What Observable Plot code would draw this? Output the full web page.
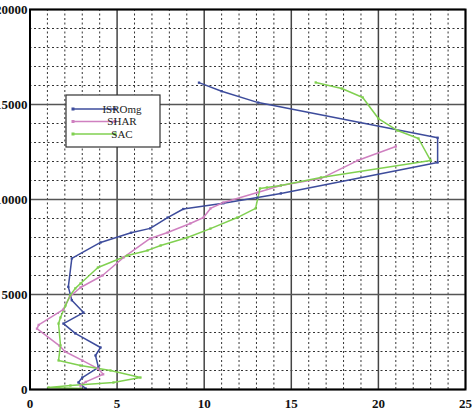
<!DOCTYPE html>
<html><head><meta charset="utf-8">
<script src="https://cdn.jsdelivr.net/npm/d3@7"></script>
<script src="https://cdn.jsdelivr.net/npm/@observablehq/plot@0.6"></script>
<style>
body{margin:0;background:#fff}
g[aria-label$="tick label"], g[aria-label$="tick label"] text{font-weight:bold;font-size:13px;font-family:"Liberation Serif",serif}
</style>
</head><body><div id="chart"></div>
<script>
const seriesNames = ["ISROmg", "SHAR", "SAC"];
const seriesColors = ["#3d4c9c", "#cf80c0", "#80d050"];

const isroSpeed = [9.7, 11.0, 13.1, 23.4, 23.4, 14.4, 13.06, 11.1, 8.8, 7.9, 6.9, 5.8, 4.05, 2.4, 2.2, 2.4, 3.07, 1.92, 2.6, 4.05, 3.76, 3.93, 3.0, 2.78, 3.2];
const isroAlt   = [16150, 15700, 15100, 13250, 11950, 10320, 10100, 9800, 9500, 9050, 8480, 8250, 7740, 6900, 5400, 4700, 4050, 3470, 2950, 2210, 1790, 1160, 630, 370, 50];

const sharSpeed = [21.0, 18.8, 16.7, 14.4, 13.06, 11.1, 10.36, 9.96, 9.2, 7.9, 6.9, 5.37, 4.16, 2.9, 2.3, 1.9, 0.5, 0.4, 1.7, 2.0, 3.0, 3.9, 4.2, 3.2, 2.9];
const sharAlt   = [12790, 12050, 11100, 10740, 10370, 9840, 9530, 9050, 8740, 8260, 7950, 6950, 6000, 5370, 4900, 4200, 3400, 3200, 2300, 2000, 1530, 1100, 800, 400, 200];

const sacSpeed = [16.4, 17.9, 19.1, 20.0, 21.1, 22.3, 23.0, 16.7, 14.4, 13.6, 13.2, 12.95, 11.9, 10.36, 9.04, 7.5, 6.75, 5.6, 3.9, 2.9, 2.6, 2.3, 2.04, 1.75, 1.64, 1.75, 1.64, 2.9, 4.62, 6.34, 4.79, 2.32, 1.06, 2.9];
const sacAlt   = [16160, 15840, 15370, 14260, 13630, 13210, 12050, 11160, 10740, 10630, 10580, 9530, 9050, 8470, 8000, 7580, 7320, 7050, 6420, 5580, 5320, 4950, 4420, 3790, 3470, 2320, 1530, 1260, 1000, 630, 370, 210, 105, 50];

const xTicks = [0, 5, 10, 15, 20, 25];
const yTicks = [0, 5000, 10000, 15000, 20000];
const xMinor = [1,2,3,4,6,7,8,9,11,12,13,14,16,17,18,19,21,22,23,24];
const yMinor = [1000,2000,3000,4000,6000,7000,8000,9000,11000,12000,13000,14000,16000,17000,18000,19000];

const speeds = [isroSpeed, sharSpeed, sacSpeed];
const alts = [isroAlt, sharAlt, sacAlt];
const rows = [];
seriesNames.forEach((name, i) => {
  speeds[i].forEach((s, j) => rows.push({series: name, speed: s, alt: alts[i][j]}));
});

const tickFont = {fontFamily: "Liberation Serif", fontSize: 13, fontWeight: "bold", fill: "#111"};

const plot = Plot.plot({
  width: 474,
  height: 413,
  marginLeft: 29.5,
  marginRight: 9,
  marginTop: 9,
  marginBottom: 24,
  style: {fontFamily: "Liberation Serif", background: "#fff"},
  x: {domain: [0, 25], label: null},
  y: {domain: [0, 20000], label: null},
  color: {domain: seriesNames, range: seriesColors},
  marks: [
    Plot.ruleX(xMinor, {stroke: "#333", strokeWidth: 1, strokeDasharray: "2,2.5"}),
    Plot.ruleY(yMinor, {stroke: "#333", strokeWidth: 1, strokeDasharray: "2,2.5"}),
    Plot.ruleX(xTicks, {stroke: "#444", strokeWidth: 1.5}),
    Plot.ruleY(yTicks, {stroke: "#555", strokeWidth: 1.5}),
    Plot.line(rows, {x: "speed", y: "alt", z: "series", stroke: "series", strokeWidth: 1.5}),
    Plot.dot(rows, {x: "speed", y: "alt", fill: "series", r: 1.3, symbol: "square"}),
    Plot.frame({stroke: "#000", strokeWidth: 2}),
    Plot.axisX({ticks: xTicks, tickSize: 0, tickPadding: 9, label: null, tickFormat: d => String(d), ...tickFont}),
    Plot.axisY({ticks: yTicks, tickSize: 0, tickPadding: 2.5, label: null, tickFormat: d => String(d), ...tickFont})
  ]
});
document.getElementById("chart").appendChild(plot);

// legend inside the plot area
const svg = d3.select(plot);
const lg = svg.append("g");
lg.append("rect").attr("x", 66).attr("y", 95).attr("width", 94).attr("height", 52)
  .attr("fill", "#fff").attr("stroke", "#333").attr("stroke-width", 1.2);
seriesNames.forEach((name, i) => {
  const y = 109 + i * 12.5;
  lg.append("line").attr("x1", 73).attr("x2", 115).attr("y1", y).attr("y2", y)
    .attr("stroke", seriesColors[i]).attr("stroke-width", 1.6);
  [73, 115].forEach(x => lg.append("rect").attr("x", x - 1.5).attr("y", y - 1.5)
    .attr("width", 3).attr("height", 3).attr("fill", seriesColors[i]));
  lg.append("text").attr("x", 122).attr("y", y).attr("dy", "0.35em")
    .attr("font-family", "Liberation Serif").attr("font-size", 11).attr("font-weight", "normal")
    .attr("fill", "#222").text(name);
});
</script>
</body></html>
